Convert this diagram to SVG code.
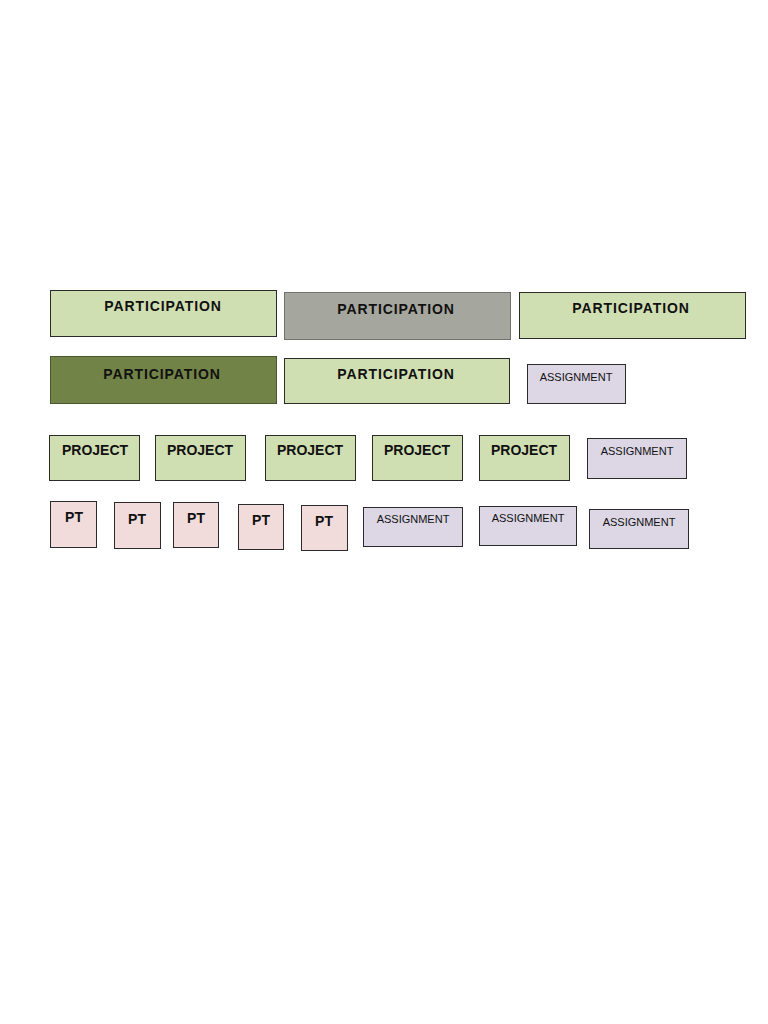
<svg xmlns="http://www.w3.org/2000/svg" width="768" height="1024" viewBox="0 0 768 1024">
<style>
.b{stroke:#2b2b2b;stroke-width:1}
.lg{fill:#d0dfb1}
.gr{fill:#a5a69d;stroke:#6f716a}
.dg{fill:#718346;stroke:#4a5630}
.pk{fill:#f2dcdb}
.lv{fill:#dcd6e5}
text{font-family:"Liberation Sans",Arial,sans-serif;fill:#111;text-anchor:middle}
.big{font-size:14px;font-weight:bold;letter-spacing:0.9px}
.pj{font-size:14px;font-weight:bold}
.sm{font-size:11px}
</style>
<rect width="768" height="1024" fill="#fff"/>
<g id="participation1"><rect class="b lg" x="50.5" y="290.5" width="226" height="46"/><text class="big" x="163" y="311">PARTICIPATION</text></g>
<g id="participation2"><rect class="b gr" x="284.5" y="292.5" width="226" height="47"/><text class="big" x="396" y="314">PARTICIPATION</text></g>
<g id="participation3"><rect class="b lg" x="519.5" y="292.5" width="226" height="46"/><text class="big" x="631" y="313">PARTICIPATION</text></g>
<g id="participation4"><rect class="b dg" x="50.5" y="356.5" width="226" height="47"/><text class="big" x="162" y="379">PARTICIPATION</text></g>
<g id="participation5"><rect class="b lg" x="284.5" y="358.5" width="225" height="45"/><text class="big" x="396" y="379">PARTICIPATION</text></g>
<g id="assignment1"><rect class="b lv" x="527.5" y="364.5" width="98" height="39"/><text class="sm" x="576" y="381">ASSIGNMENT</text></g>
<g id="project1"><rect class="b lg" x="49.5" y="435.5" width="90" height="45"/><text class="pj" x="95" y="455">PROJECT</text></g>
<g id="project2"><rect class="b lg" x="155.5" y="435.5" width="90" height="45"/><text class="pj" x="200" y="455">PROJECT</text></g>
<g id="project3"><rect class="b lg" x="265.5" y="435.5" width="90" height="45"/><text class="pj" x="310" y="455">PROJECT</text></g>
<g id="project4"><rect class="b lg" x="372.5" y="435.5" width="90" height="45"/><text class="pj" x="417" y="455">PROJECT</text></g>
<g id="project5"><rect class="b lg" x="479.5" y="435.5" width="90" height="45"/><text class="pj" x="524" y="455">PROJECT</text></g>
<g id="assignment2"><rect class="b lv" x="587.5" y="438.5" width="99" height="40"/><text class="sm" x="637" y="455">ASSIGNMENT</text></g>
<g id="pt1"><rect class="b pk" x="50.5" y="501.5" width="46" height="46"/><text class="pj" x="74" y="522">PT</text></g>
<g id="pt2"><rect class="b pk" x="114.5" y="502.5" width="46" height="46"/><text class="pj" x="137" y="524">PT</text></g>
<g id="pt3"><rect class="b pk" x="173.5" y="502.5" width="45" height="45"/><text class="pj" x="196" y="523">PT</text></g>
<g id="pt4"><rect class="b pk" x="238.5" y="504.5" width="45" height="45"/><text class="pj" x="261" y="525">PT</text></g>
<g id="pt5"><rect class="b pk" x="301.5" y="505.5" width="46" height="45"/><text class="pj" x="324" y="526">PT</text></g>
<g id="assignment3"><rect class="b lv" x="363.5" y="507.5" width="99" height="39"/><text class="sm" x="413" y="523">ASSIGNMENT</text></g>
<g id="assignment4"><rect class="b lv" x="479.5" y="506.5" width="97" height="39"/><text class="sm" x="528" y="522">ASSIGNMENT</text></g>
<g id="assignment5"><rect class="b lv" x="589.5" y="509.5" width="99" height="39"/><text class="sm" x="639" y="526">ASSIGNMENT</text></g>
<g id="connectors"/>
</svg>
